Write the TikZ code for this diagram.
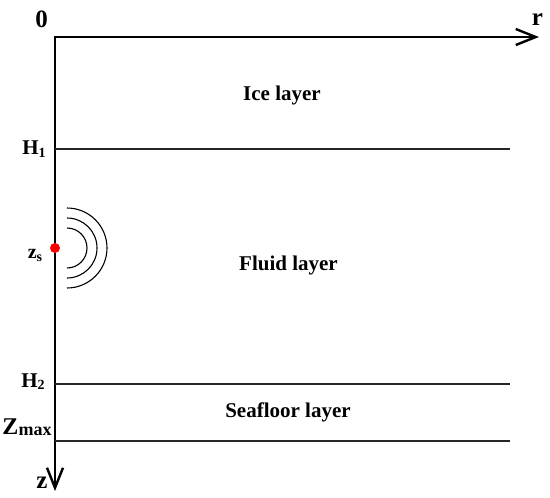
\documentclass[tikz,border=0pt]{standalone}
\usepackage{fontspec}
\setmainfont{Liberation Serif}
\usetikzlibrary{arrows.meta}
\newcommand{\subtxt}[1]{\raisebox{-3pt}{\fontsize{14}{14}\selectfont #1}}
\begin{document}
\begin{tikzpicture}[x=1pt,y=-1pt,
  axis/.style={line width=2.6pt,-{Straight Barb[length=20pt,width=16pt,line width=2.4pt]}},
  layerline/.style={line width=1.3pt,draw=black!85},
  lbl/.style={font=\bfseries\fontsize{21}{24}\selectfont,inner sep=0pt,anchor=base},
  big/.style={font=\bfseries\fontsize{25}{28}\selectfont,inner sep=0pt,anchor=base},
  wave/.style={line width=1.1pt}]
\useasboundingbox (0,0) rectangle (550,498);
\coordinate (o) at (55,37);
\coordinate (rend) at (539,37);
\coordinate (zend) at (55,491);
\draw[axis] ([xshift=-1.3pt]o) -- (rend);
\draw[axis] (o) -- (zend);
\coordinate (h1a) at (55,149); \coordinate (h1b) at (510,149);
\coordinate (h2a) at (55,384); \coordinate (h2b) at (510,384);
\coordinate (zma) at (55,441); \coordinate (zmb) at (510,441);
\draw[layerline] (h1a) -- (h1b);
\draw[layerline] (h2a) -- (h2b);
\draw[layerline] (zma) -- (zmb);
\node[big] (zero) at (41.5,27) {0};
\node[big] (rlab) at (537.5,25) {r};
\node[lbl] (ice) at (282,100) {Ice layer};
\node[lbl] (fluid) at (288.5,270) {Fluid layer};
\node[lbl] (sea) at (288,417) {Seafloor layer};
\node[lbl] (h1) at (34,154) {H\subtxt{1}};
\node[lbl] (h2) at (33,387) {H\raisebox{-2pt}{\fontsize{14}{14}\selectfont 2}};
\node[lbl,font=\bfseries\fontsize{20}{24}\selectfont] (zs) at (35,258) {z\subtxt{s}};
\node[lbl,font=\bfseries\fontsize{24}{24}\selectfont] (zmax) at (27,434) {Z\raisebox{-1.5pt}{\fontsize{18}{18}\selectfont max}};
\node[big] (zlab) at (42,488) {z};
\draw[wave] (67,228) arc[start angle=-90,end angle=90,radius=20];
\draw[wave] (67,218) arc[start angle=-90,end angle=90,radius=30];
\draw[wave] (67,208) arc[start angle=-90,end angle=90,radius=40];
\node[circle,fill=red,inner sep=0pt,minimum size=10pt] (src) at (55,248) {};
\end{tikzpicture}
\end{document}
